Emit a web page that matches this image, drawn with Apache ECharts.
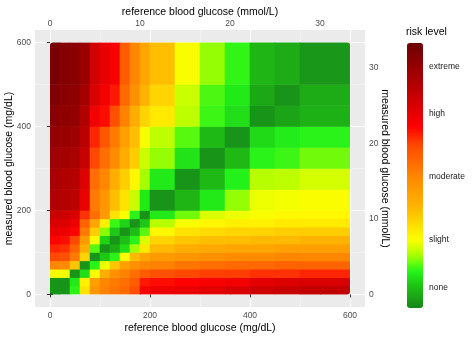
<!DOCTYPE html>
<html>
<head>
<meta charset="utf-8">
<script src="https://cdn.jsdelivr.net/npm/echarts/dist/echarts.min.js"></script>
<style>
  html, body { margin: 0; padding: 0; background: #fff; }
  #chart { width: 474px; height: 338px; }
</style>
</head>
<body>
<div id="chart"></div>
<script>
// Cell edges (mg/dL) along the reference (x) and measured (y) axes
const xEdges = [0, 20, 40, 60, 80, 100, 120, 140, 160, 180, 200, 250, 300, 350, 400, 450, 500, 600];
const yEdges = [0, 20, 40, 60, 80, 100, 120, 140, 160, 180, 200, 250, 300, 350, 400, 450, 500, 600];

// Risk score per cell; one row per measured band, from the lowest band upward
const riskRows = [
  [0.00, 0.00, 0.50, 1.20, 1.85, 2.05, 2.15, 2.25, 2.45, 2.85, 2.95, 3.00, 3.05, 3.15, 3.25, 3.30, 3.35],
  [0.00, 0.00, 0.45, 1.10, 1.75, 2.00, 2.10, 2.20, 2.35, 2.70, 2.75, 2.80, 2.85, 2.90, 3.05, 3.10, 3.15],
  [1.00, 0.95, 0.00, 0.40, 1.00, 1.60, 1.90, 2.05, 2.20, 2.35, 2.45, 2.50, 2.55, 2.55, 2.60, 2.60, 2.65],
  [2.00, 1.95, 1.40, 0.00, 0.50, 0.95, 1.40, 1.75, 1.90, 2.00, 2.05, 2.15, 2.20, 2.25, 2.25, 2.30, 2.30],
  [2.50, 2.45, 2.10, 1.30, 0.00, 0.30, 0.50, 1.00, 1.50, 1.70, 1.80, 1.85, 1.90, 1.95, 1.95, 2.00, 2.00],
  [2.65, 2.60, 2.30, 1.60, 0.60, 0.00, 0.15, 0.40, 0.75, 1.15, 1.50, 1.60, 1.65, 1.70, 1.70, 1.75, 1.75],
  [2.80, 2.75, 2.50, 1.80, 1.00, 0.35, 0.00, 0.25, 0.50, 0.90, 1.30, 1.40, 1.45, 1.45, 1.50, 1.50, 1.55],
  [3.00, 2.95, 2.80, 2.10, 1.35, 0.70, 0.30, 0.00, 0.25, 0.60, 1.05, 1.20, 1.25, 1.30, 1.30, 1.35, 1.35],
  [3.15, 3.10, 2.95, 2.30, 1.70, 1.10, 0.55, 0.35, 0.00, 0.30, 0.80, 1.00, 1.05, 1.10, 1.10, 1.15, 1.15],
  [3.30, 3.25, 3.15, 2.60, 2.20, 1.80, 1.20, 1.00, 0.50, 0.00, 0.45, 0.65, 0.90, 0.95, 1.00, 1.05, 1.05],
  [3.50, 3.45, 3.40, 3.00, 2.10, 1.85, 1.45, 1.20, 0.85, 0.45, 0.00, 0.20, 0.45, 0.72, 0.95, 0.97, 1.00],
  [3.55, 3.50, 3.45, 3.10, 2.20, 2.00, 1.60, 1.35, 1.05, 0.75, 0.45, 0.00, 0.22, 0.48, 0.80, 0.82, 0.88],
  [3.65, 3.60, 3.55, 3.30, 2.50, 2.20, 1.95, 1.60, 1.35, 0.85, 0.72, 0.42, 0.00, 0.22, 0.50, 0.55, 0.65],
  [3.75, 3.70, 3.65, 3.40, 2.65, 2.40, 2.10, 1.75, 1.45, 1.00, 0.82, 0.60, 0.22, 0.00, 0.38, 0.46, 0.50],
  [3.85, 3.80, 3.75, 3.50, 2.90, 2.75, 2.45, 2.05, 1.60, 1.30, 1.15, 0.82, 0.55, 0.40, 0.00, 0.10, 0.18],
  [3.95, 3.85, 3.80, 3.60, 3.10, 2.90, 2.70, 2.25, 1.90, 1.55, 1.30, 0.85, 0.58, 0.45, 0.12, 0.00, 0.15],
  [4.00, 3.90, 3.85, 3.70, 3.20, 3.00, 2.85, 2.35, 2.00, 1.70, 1.45, 1.00, 0.72, 0.52, 0.20, 0.15, 0.02]
];

// Axis ticks
const mgTicks = [0, 200, 400, 600];
const mgMinorTicks = [100, 300, 500];
const mmolTicks = [0, 10, 20, 30];
const MG_PER_MMOL = 18;

// Colour bar labels and where they sit on the risk scale
const riskLabels = ['none', 'slight', 'moderate', 'high', 'extreme'];
const riskLabelValues = [0.25, 1, 2, 3, 3.75];
const RISK_MIN = -0.08, RISK_MAX = 4.13;

// Colour ramp stops: [risk, colour]
const rampStops = [
  [-0.08, '#16871a'], [0.25, '#1fbd14'], [0.5, '#22f51a'], [0.75, '#a5ff00'],
  [1.0, '#ffff00'], [1.5, '#ffb800'], [2.0, '#ff8800'], [2.5, '#ff4a00'],
  [2.8, '#ff0000'], [3.25, '#cc0000'], [3.75, '#940000'], [4.13, '#6e0000']
];

function hexToRgb(h) { return [1, 3, 5].map(i => parseInt(h.substr(i, 2), 16)); }
function rampColor(v) {
  for (let i = 1; i < rampStops.length; i++) {
    if (v <= rampStops[i][0]) {
      const [v0, c0] = rampStops[i - 1], [v1, c1] = rampStops[i];
      const t = (v - v0) / (v1 - v0);
      const a = hexToRgb(c0), b = hexToRgb(c1);
      const c = a.map((x, k) => Math.round(x + (b[k] - x) * t));
      return 'rgb(' + c.join(',') + ')';
    }
  }
  return rampStops[rampStops.length - 1][1];
}
// Evenly spaced colour list for the visual map
const rampColors = [];
for (let i = 0; i <= 60; i++) rampColors.push(rampColor(RISK_MIN + (RISK_MAX - RISK_MIN) * i / 60));

// Cells: [x0, x1, y0, y1, risk]
const cells = [];
riskRows.forEach((row, j) => {
  row.forEach((risk, i) => {
    cells.push([xEdges[i], xEdges[i + 1], yEdges[j], yEdges[j + 1], risk]);
  });
});

const xLo = xEdges[0], xHi = xEdges[xEdges.length - 1];
const yLo = yEdges[0], yHi = yEdges[yEdges.length - 1];

const FONT = 'Liberation Sans, Arial, Helvetica, sans-serif';
const tickStyle = { show: true, length: 3, lineStyle: { color: '#333', width: 1 } };
const labelStyle = { fontSize: 8.5, color: '#4d4d4d', fontFamily: FONT };
const nameStyle = { fontSize: 10.5, color: '#000', fontFamily: FONT };

const chart = echarts.init(document.getElementById('chart'), null, { renderer: 'canvas' });

chart.setOption({
  animation: false,
  backgroundColor: '#fff',
  textStyle: { fontFamily: FONT },
  title: {
    text: 'risk level', left: 406, top: 27, padding: 0,
    textStyle: { fontSize: 10.5, fontWeight: 'normal', color: '#000', fontFamily: FONT }
  },
  grid: [
    { left: 35, top: 30, width: 330, height: 277, show: true, backgroundColor: '#ebebeb', borderWidth: 0,
      containLabel: false, outerBoundsMode: 'none' },
    { left: 407, top: 43, width: 16, height: 265, show: false, containLabel: false, outerBoundsMode: 'none' }
  ],
  xAxis: [
    {
      gridIndex: 0, type: 'value', position: 'bottom', min: -30, max: 630,
      name: 'reference blood glucose (mg/dL)', nameLocation: 'middle', nameGap: 15.5, nameMoveOverlap: false,
      nameTextStyle: nameStyle,
      axisLine: { show: false },
      axisTick: Object.assign({ customValues: mgTicks }, tickStyle),
      axisLabel: Object.assign({ customValues: mgTicks, margin: 4 }, labelStyle),
      splitLine: { show: true, lineStyle: { color: '#ffffff', width: 1 } }
    },
    {
      gridIndex: 0, type: 'value', position: 'top', min: -30 / MG_PER_MMOL, max: 630 / MG_PER_MMOL,
      name: 'reference blood glucose (mmol/L)', nameLocation: 'middle', nameGap: 12, nameMoveOverlap: false,
      nameTextStyle: nameStyle,
      axisLine: { show: false },
      axisTick: Object.assign({ customValues: mmolTicks }, tickStyle),
      axisLabel: Object.assign({ customValues: mmolTicks, margin: 1.5 }, labelStyle),
      splitLine: { show: false }
    },
    {
      gridIndex: 0, type: 'value', position: 'bottom', min: -30, max: 630,
      axisLine: { show: false }, axisLabel: { show: false },
      axisTick: { show: false, customValues: mgMinorTicks },
      splitLine: { show: true, lineStyle: { color: '#f7f7f7', width: 0.6 } }
    },
    { gridIndex: 1, type: 'value', min: 0, max: 1, show: false }
  ],
  yAxis: [
    {
      gridIndex: 0, type: 'value', position: 'left', min: -30, max: 630,
      name: 'measured blood glucose (mg/dL)', nameLocation: 'middle', nameGap: 20, nameRotate: 90,
      nameMoveOverlap: false, nameTextStyle: nameStyle,
      axisLine: { show: false },
      axisTick: Object.assign({ customValues: mgTicks }, tickStyle),
      axisLabel: Object.assign({ customValues: mgTicks, margin: 4 }, labelStyle),
      splitLine: { show: true, lineStyle: { color: '#ffffff', width: 1 } }
    },
    {
      gridIndex: 0, type: 'value', position: 'right', min: -30 / MG_PER_MMOL, max: 630 / MG_PER_MMOL,
      name: 'measured blood glucose (mmol/L)', nameLocation: 'middle', nameGap: 14, nameRotate: -90,
      nameMoveOverlap: false, nameTextStyle: nameStyle,
      axisLine: { show: false },
      axisTick: Object.assign({ customValues: mmolTicks }, tickStyle),
      axisLabel: Object.assign({ customValues: mmolTicks, margin: 4 }, labelStyle),
      splitLine: { show: false }
    },
    {
      gridIndex: 0, type: 'value', position: 'left', min: -30, max: 630,
      axisLine: { show: false }, axisLabel: { show: false },
      axisTick: { show: false, customValues: mgMinorTicks },
      splitLine: { show: true, lineStyle: { color: '#f7f7f7', width: 0.6 } }
    },
    {
      gridIndex: 1, type: 'value', position: 'right', min: RISK_MIN, max: RISK_MAX,
      axisLine: { show: false }, axisTick: { show: false }, splitLine: { show: false },
      axisLabel: {
        customValues: riskLabelValues, margin: 6, fontSize: 8.5, color: '#1a1a1a', fontFamily: FONT,
        formatter: v => {
          const k = riskLabelValues.findIndex(x => Math.abs(x - v) < 1e-6);
          return k >= 0 ? riskLabels[k] : '';
        }
      }
    }
  ],
  visualMap: {
    type: 'continuous', seriesIndex: 0, dimension: 4,
    min: RISK_MIN, max: RISK_MAX, calculable: false, hoverLink: false,
    orient: 'vertical', left: 407, top: 43, itemWidth: 16, itemHeight: 265,
    padding: 0, text: null, showLabel: false,
    inRange: { color: rampColors }
  },
  series: [{
    type: 'custom',
    xAxisIndex: 0, yAxisIndex: 0,
    encode: { x: [0, 1], y: [2, 3] },
    data: cells,
    silent: true,
    renderItem: (params, api) => {
      const x0 = api.value(0), x1 = api.value(1), y0 = api.value(2), y1 = api.value(3);
      const a = api.coord([x0, y1]);
      const b = api.coord([x1, y0]);
      const R = 3;
      const r = [
        (x0 === xLo && y1 === yHi) ? R : 0,
        (x1 === xHi && y1 === yHi) ? R : 0,
        (x1 === xHi && y0 === yLo) ? R : 0,
        (x0 === xLo && y0 === yLo) ? R : 0
      ];
      const padL = x0 === xLo ? 0 : 0.3, padR = x1 === xHi ? 0 : 0.3;
      const padT = y1 === yHi ? 0 : 0.3, padB = y0 === yLo ? 0 : 0.3;
      return {
        type: 'rect',
        shape: {
          x: a[0] - padL, y: a[1] - padT,
          width: b[0] - a[0] + padL + padR, height: b[1] - a[1] + padT + padB, r: r
        },
        style: { fill: api.visual('color') }
      };
    }
  }]
});
</script>
</body>
</html>
